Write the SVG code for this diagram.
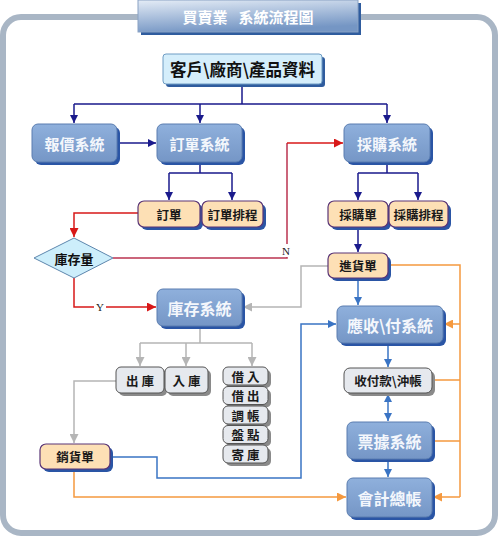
<svg xmlns="http://www.w3.org/2000/svg" width="500" height="539" viewBox="0 0 500 539">
<style>
text{font-family:"Noto Sans CJK TC","Noto Sans CJK SC",sans-serif;font-weight:bold;text-anchor:middle;dominant-baseline:central}
.bx{fill:url(#gB);stroke:#5a7db0;stroke-width:1}
.bs{fill:#2a55a5}
.bt{fill:#f4f7fc;font-size:15px}
.pk{fill:#fde0b5;stroke:#5a3576;stroke-width:1.2}
.pt{fill:#1a1a1a;font-size:12.5px}
.gy{fill:#e6e9ee;stroke:#555;stroke-width:1}
.gs{fill:#8a8a8a}
.gt{fill:#1a1a1a;font-size:12.5px}
.c{fill:none;stroke-width:1.5}
.nv{stroke:#1a1a8c}
.rd{stroke:#d81818}
.mr{stroke:#bb3350}
.gr{stroke:#b5b5b5}
.bl{stroke:#3a74c4}
.or{stroke:#f5993f}
</style>
<defs>
<linearGradient id="gB" x1="0" y1="0" x2="0" y2="1"><stop offset="0" stop-color="#8fb0dc"/><stop offset="1" stop-color="#7596c6"/></linearGradient>
<linearGradient id="gT" x1="0" y1="0" x2="0.3" y2="1"><stop offset="0" stop-color="#e4ecf6"/><stop offset="1" stop-color="#7596c4"/></linearGradient>
<marker id="aN" viewBox="0 0 10 10" refX="10" refY="5" markerWidth="8" markerHeight="8" markerUnits="userSpaceOnUse" orient="auto"><path d="M0,0L10,5L0,10z" fill="#1a1a8c"/></marker>
<marker id="aR" viewBox="0 0 10 10" refX="10" refY="5" markerWidth="9" markerHeight="9" markerUnits="userSpaceOnUse" orient="auto"><path d="M0,0L10,5L0,10z" fill="#d81818"/></marker>
<marker id="aG" viewBox="0 0 10 10" refX="10" refY="5" markerWidth="9" markerHeight="9" markerUnits="userSpaceOnUse" orient="auto"><path d="M0,0L10,5L0,10z" fill="#b5b5b5"/></marker>
<marker id="aB" viewBox="0 0 10 10" refX="10" refY="5" markerWidth="8" markerHeight="8" markerUnits="userSpaceOnUse" orient="auto"><path d="M0,0L10,5L0,10z" fill="#3a74c4"/></marker>
<marker id="aBs" viewBox="0 0 10 10" refX="0" refY="5" markerWidth="8" markerHeight="8" markerUnits="userSpaceOnUse" orient="auto"><path d="M10,0L0,5L10,10z" fill="#3a74c4"/></marker>
<marker id="aO" viewBox="0 0 10 10" refX="10" refY="5" markerWidth="9" markerHeight="9" markerUnits="userSpaceOnUse" orient="auto"><path d="M0,0L10,5L0,10z" fill="#f5993f"/></marker>
</defs>
<rect width="500" height="539" fill="#ffffff"/>
<rect x="3" y="17" width="492" height="516" rx="18" fill="#ffffff" stroke="#a9b6c5" stroke-width="6"/>
<g id="title">
<rect x="141" y="3" width="220" height="32" fill="#2f5c9e"/>
<rect x="138" y="0" width="220" height="32" fill="url(#gT)" stroke="#8aa2c4" stroke-width="1"/>
<text y="16" style="fill:#ffffff;font-size:15px"><tspan x="205">買賣業</tspan><tspan x="276">系統流程圖</tspan></text>
</g>
<g id="connectors">
<path class="c nv" d="M242,84V104M74,104H387"/>
<path class="c nv" d="M74,104V123" marker-end="url(#aN)"/>
<path class="c nv" d="M200,104V123" marker-end="url(#aN)"/>
<path class="c nv" d="M387,104V123" marker-end="url(#aN)"/>
<path class="c nv" d="M117,143H156" marker-end="url(#aN)"/>
<path class="c nv" d="M200,162V173M169,173H232"/>
<path class="c nv" d="M169,173V200" marker-end="url(#aN)"/>
<path class="c nv" d="M232,173V200" marker-end="url(#aN)"/>
<path class="c nv" d="M387,162V173M358,173H418"/>
<path class="c nv" d="M358,173V200" marker-end="url(#aN)"/>
<path class="c nv" d="M418,173V200" marker-end="url(#aN)"/>
<path class="c nv" d="M358,227V252" marker-end="url(#aN)"/>
<path class="c rd" d="M138,213H74V237" marker-end="url(#aR)"/>
<path class="c mr" d="M113,258H287V143"/>
<path class="c rd" d="M287,143H343" marker-end="url(#aR)"/>
<path class="c rd" d="M74,278V307H156" marker-end="url(#aR)"/>
<path class="c gr" d="M328,266H301V307H243" marker-end="url(#aG)"/>
<path class="c gr" d="M200,326V343M140,343H252"/>
<path class="c gr" d="M140,343V366" marker-end="url(#aG)"/>
<path class="c gr" d="M186,343V366" marker-end="url(#aG)"/>
<path class="c gr" d="M252,343V366" marker-end="url(#aG)"/>
<path class="c gr" d="M116,381H74V443" marker-end="url(#aG)"/>
<path class="c bl" d="M358,278V305" marker-end="url(#aB)"/>
<path class="c bl" d="M110,457H157V478H301V324H336" marker-end="url(#aB)"/>
<path class="c bl" d="M388,343V367" marker-end="url(#aB)"/>
<path class="c bl" d="M388,394V421" marker-start="url(#aBs)" marker-end="url(#aB)"/>
<path class="c bl" d="M388,459V477" marker-end="url(#aB)"/>
<path class="c or" d="M388,265H460V497M432,380H460M432,441H460"/>
<path class="c or" d="M460,324H444" marker-end="url(#aO)"/>
<path class="c or" d="M460,497H433" marker-end="url(#aO)"/>
<path class="c or" d="M74,469V497H346" marker-end="url(#aO)"/>
<rect x="94" y="300" width="12" height="14" fill="#ffffff"/>
<text x="100" y="307" style="font-family:'Liberation Serif',serif;font-weight:normal;font-size:11px;fill:#222">Y</text>
<rect x="280" y="244" width="12" height="13" fill="#ffffff"/>
<text x="286" y="251" style="font-family:'Liberation Serif',serif;font-weight:normal;font-size:11px;fill:#222">N</text>
</g>
<g id="data">
<rect x="166" y="57" width="159" height="30" rx="3" fill="#2f5c9e"/>
<rect x="163" y="54" width="159" height="30" rx="3" fill="#d5eefb" stroke="#6e9cc4" stroke-width="1"/>
<text x="242.5" y="69" style="fill:#111;font-size:16.5px">客戶\廠商\產品資料</text>
</g>
<g id="quote"><rect class="bs" x="35" y="127" width="85" height="38" rx="6"/><rect class="bx" x="32" y="124" width="85" height="38" rx="6"/><text class="bt" x="74.5" y="143">報價系統</text></g>
<g id="order"><rect class="bs" x="160" y="127" width="85" height="38" rx="6"/><rect class="bx" x="157" y="124" width="85" height="38" rx="6"/><text class="bt" x="199.5" y="143">訂單系統</text></g>
<g id="purchase"><rect class="bs" x="347" y="127" width="86" height="38" rx="6"/><rect class="bx" x="344" y="124" width="86" height="38" rx="6"/><text class="bt" x="387" y="143">採購系統</text></g>
<g id="orderform"><rect class="bs" x="141" y="204" width="62" height="26" rx="6"/><rect class="pk" x="138" y="201" width="62" height="26" rx="6"/><text class="pt" x="169" y="214">訂單</text></g>
<g id="ordersched"><rect class="bs" x="205" y="204" width="61" height="26" rx="6"/><rect class="pk" x="202" y="201" width="61" height="26" rx="6"/><text class="pt" x="232.5" y="214">訂單排程</text></g>
<g id="poform"><rect class="bs" x="331" y="204" width="60" height="26" rx="6"/><rect class="pk" x="328" y="201" width="60" height="26" rx="6"/><text class="pt" x="358" y="214">採購單</text></g>
<g id="posched"><rect class="bs" x="392" y="204" width="59" height="26" rx="6"/><rect class="pk" x="389" y="201" width="59" height="26" rx="6"/><text class="pt" x="418.5" y="214">採購排程</text></g>
<g id="receipt"><rect class="bs" x="331" y="256" width="60" height="25" rx="6"/><rect class="pk" x="328" y="253" width="60" height="25" rx="6"/><text class="pt" x="358" y="265.5">進貨單</text></g>
<g id="stockqty"><path d="M34,258L74,238L113,258L74,278Z" fill="#cdeefb" stroke="#5d86ad" stroke-width="1"/><text x="74" y="258" style="fill:#111;font-size:13px">庫存量</text></g>
<g id="inventory"><rect class="bs" x="160" y="292" width="85" height="37" rx="6"/><rect class="bx" x="157" y="289" width="85" height="37" rx="6"/><text class="bt" x="199.5" y="307.5" style="font-size:16px">庫存系統</text></g>
<g id="arap"><rect class="bs" x="340" y="309" width="106" height="37" rx="6"/><rect class="bx" x="337" y="306" width="106" height="37" rx="6"/><text class="bt" x="390" y="324.5" style="font-size:16px">應收\付系統</text></g>
<g id="out"><rect class="gs" x="119" y="370" width="48" height="26" rx="5"/><rect class="gy" x="116" y="367" width="48" height="26" rx="5"/><text class="gt" x="140" y="380">出 庫</text></g>
<g id="in"><rect class="gs" x="168" y="370" width="43" height="26" rx="5"/><rect class="gy" x="165" y="367" width="43" height="26" rx="5"/><text class="gt" x="186.5" y="380">入 庫</text></g>
<g id="borrowin"><rect class="gs" x="226" y="370" width="45" height="18" rx="5"/><rect class="gy" x="223" y="367" width="45" height="18" rx="5"/><text class="gt" x="245.5" y="376">借 入</text></g>
<g id="borrowout"><rect class="gs" x="226" y="389.5" width="45" height="18" rx="5"/><rect class="gy" x="223" y="386.5" width="45" height="18" rx="5"/><text class="gt" x="245.5" y="395.5">借 出</text></g>
<g id="adjust"><rect class="gs" x="226" y="409" width="45" height="18" rx="5"/><rect class="gy" x="223" y="406" width="45" height="18" rx="5"/><text class="gt" x="245.5" y="415">調 帳</text></g>
<g id="count"><rect class="gs" x="226" y="428.5" width="45" height="18" rx="5"/><rect class="gy" x="223" y="425.5" width="45" height="18" rx="5"/><text class="gt" x="245.5" y="434.5">盤 點</text></g>
<g id="consign"><rect class="gs" x="226" y="448" width="45" height="18" rx="5"/><rect class="gy" x="223" y="445" width="45" height="18" rx="5"/><text class="gt" x="245.5" y="454">寄 庫</text></g>
<g id="payment"><rect class="gs" x="347" y="371" width="88" height="25" rx="6"/><rect class="gy" x="344" y="368" width="88" height="25" rx="6"/><text class="gt" x="388" y="380.5">收付款\沖帳</text></g>
<g id="bills"><rect class="bs" x="350" y="425" width="85" height="37" rx="6"/><rect class="bx" x="347" y="422" width="85" height="37" rx="6"/><text class="bt" x="389.5" y="440.5" style="font-size:16px">票據系統</text></g>
<g id="ledger"><rect class="bs" x="350" y="481" width="85" height="39" rx="6"/><rect class="bx" x="347" y="478" width="85" height="39" rx="6"/><text class="bt" x="389.5" y="497.5" style="font-size:16px">會計總帳</text></g>
<g id="sales"><rect class="bs" x="43" y="447" width="70" height="25" rx="6"/><rect class="pk" x="40" y="444" width="70" height="25" rx="6"/><text class="pt" x="75" y="456.5">銷貨單</text></g>
</svg>
